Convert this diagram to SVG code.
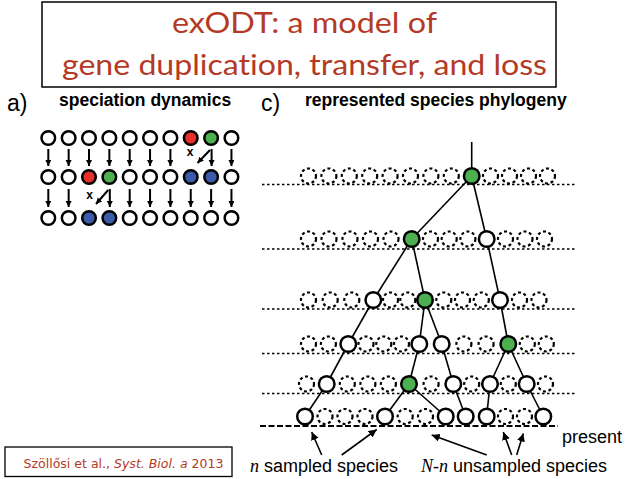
<svg xmlns="http://www.w3.org/2000/svg" width="638" height="479" viewBox="0 0 638 479">
<style>
.title{font-family:Lato,"Open Sans","Liberation Sans",sans-serif;fill:#b43a26;font-size:29px;font-variant-ligatures:none;}
.hdr{font-family:"Liberation Sans",Arial,sans-serif;font-weight:bold;font-size:17.5px;fill:#000;}
.lab{font-family:"Liberation Sans",Arial,sans-serif;font-size:23px;fill:#000;}
.txt{font-family:"Liberation Sans",Arial,sans-serif;font-size:18px;fill:#000;}
.it{font-family:"Liberation Serif","Times New Roman",serif;font-style:italic;}
.cite{font-family:"DejaVu Sans",Verdana,sans-serif;font-size:13px;fill:#b43a26;}
.xm{font-family:"Liberation Sans",Arial,sans-serif;font-weight:bold;font-size:12px;fill:#000;}
.a{stroke:#000;stroke-width:2;}
.sa{fill:#fff;stroke:#000;stroke-width:2.5;}
.n{fill:#fff;stroke:#000;stroke-width:2.5;}
.g{fill:#4caf50;}
.r{fill:#e8302a;}
.b{fill:#3a5ca8;}
.d{fill:none;stroke:#000;stroke-width:2.2;stroke-dasharray:3 2.6;}
.lvl{stroke:#000;stroke-width:1.6;stroke-dasharray:2.5 2.5;}
.e{stroke:#000;stroke-width:1.6;fill:none;}
.pa{stroke:#000;stroke-width:1.6;}
</style>
<defs>
<marker id="ah" markerUnits="userSpaceOnUse" markerWidth="7" markerHeight="7" refX="6" refY="3" orient="auto">
<path d="M0,0 L6,3 L0,6 z" fill="#000"/>
</marker>
<marker id="ah2" markerUnits="userSpaceOnUse" markerWidth="10" markerHeight="10" refX="8" refY="4" orient="auto">
<path d="M0,0 L8,4 L0,8 z" fill="#000"/>
</marker>
</defs>
<rect width="638" height="479" fill="#fff"/>

<g id="title">
<rect x="42" y="2" width="514" height="85" fill="#fff" stroke="#000" stroke-width="1.5"/>
<text class="title" x="304.5" y="33" text-anchor="middle" textLength="265" lengthAdjust="spacingAndGlyphs">exODT: a model of</text>
<text class="title" x="304.5" y="75" text-anchor="middle" textLength="485" lengthAdjust="spacingAndGlyphs">gene duplication, transfer, and loss</text>
</g>

<g id="panel-a-label">
<text class="lab" x="7" y="111">a)</text>
<text class="hdr" x="59" y="106">speciation dynamics</text>
</g>
<g id="panel-c-label">
<text class="lab" x="261" y="111">c)</text>
<text class="hdr" x="305" y="106">represented species phylogeny</text>
</g>

<!-- panel a -->
<g id="panel-a-row1">
<circle class="sa" cx="48.3" cy="138" r="6.8"/>
<circle class="sa" cx="68.65" cy="138" r="6.8"/>
<circle class="sa" cx="89" cy="138" r="6.8"/>
<circle class="sa" cx="109.35" cy="138" r="6.8"/>
<circle class="sa" cx="129.7" cy="138" r="6.8"/>
<circle class="sa" cx="150.05" cy="138" r="6.8"/>
<circle class="sa" cx="170.4" cy="138" r="6.8"/>
<circle class="sa r" cx="190.75" cy="138" r="6.8"/>
<circle class="sa g" cx="211.1" cy="138" r="6.8"/>
<circle class="sa" cx="231.45" cy="138" r="6.8"/>
</g>
<g id="panel-a-row2">
<circle class="sa" cx="48.3" cy="177" r="6.8"/>
<circle class="sa" cx="68.65" cy="177" r="6.8"/>
<circle class="sa r" cx="89" cy="177" r="6.8"/>
<circle class="sa g" cx="109.35" cy="177" r="6.8"/>
<circle class="sa" cx="129.7" cy="177" r="6.8"/>
<circle class="sa" cx="150.05" cy="177" r="6.8"/>
<circle class="sa" cx="170.4" cy="177" r="6.8"/>
<circle class="sa b" cx="190.75" cy="177" r="6.8"/>
<circle class="sa b" cx="211.1" cy="177" r="6.8"/>
<circle class="sa" cx="231.45" cy="177" r="6.8"/>
</g>
<g id="panel-a-row3">
<circle class="sa" cx="48.3" cy="218" r="6.8"/>
<circle class="sa" cx="68.65" cy="218" r="6.8"/>
<circle class="sa b" cx="89" cy="218" r="6.8"/>
<circle class="sa b" cx="109.35" cy="218" r="6.8"/>
<circle class="sa" cx="129.7" cy="218" r="6.8"/>
<circle class="sa" cx="150.05" cy="218" r="6.8"/>
<circle class="sa" cx="170.4" cy="218" r="6.8"/>
<circle class="sa" cx="190.75" cy="218" r="6.8"/>
<circle class="sa" cx="211.1" cy="218" r="6.8"/>
<circle class="sa" cx="231.45" cy="218" r="6.8"/>
</g>
<g id="panel-a-arrows" marker-end="url(#ah)">
<line class="a" x1="48.3" y1="149" x2="48.3" y2="166"/>
<line class="a" x1="68.65" y1="149" x2="68.65" y2="166"/>
<line class="a" x1="89" y1="149" x2="89" y2="166"/>
<line class="a" x1="109.35" y1="149" x2="109.35" y2="166"/>
<line class="a" x1="129.7" y1="149" x2="129.7" y2="166"/>
<line class="a" x1="150.05" y1="149" x2="150.05" y2="166"/>
<line class="a" x1="170.4" y1="149" x2="170.4" y2="166"/>
<line class="a" x1="211.6" y1="149" x2="211.6" y2="166"/>
<line class="a" x1="210" y1="150" x2="197.5" y2="163"/>
<line class="a" x1="231.45" y1="149" x2="231.45" y2="166"/>
<line class="a" x1="48.3" y1="189" x2="48.3" y2="207"/>
<line class="a" x1="68.65" y1="189" x2="68.65" y2="207"/>
<line class="a" x1="109.8" y1="189" x2="109.8" y2="207"/>
<line class="a" x1="108.2" y1="190" x2="96" y2="204"/>
<line class="a" x1="129.7" y1="189" x2="129.7" y2="207"/>
<line class="a" x1="150.05" y1="189" x2="150.05" y2="207"/>
<line class="a" x1="170.4" y1="189" x2="170.4" y2="207"/>
<line class="a" x1="190.75" y1="189" x2="190.75" y2="207"/>
<line class="a" x1="211.1" y1="189" x2="211.1" y2="207"/>
<line class="a" x1="231.45" y1="189" x2="231.45" y2="207"/>
</g>
<g id="panel-a-losses">
<text class="xm" x="190" y="156" text-anchor="middle">x</text>
<text class="xm" x="89.5" y="199" text-anchor="middle">x</text>
</g>

<!-- panel c: time levels -->
<g id="levels">
<line class="lvl" x1="262" y1="184.5" x2="576" y2="184.5"/>
<line class="lvl" x1="262" y1="249" x2="576" y2="249"/>
<line class="lvl" x1="262" y1="309" x2="576" y2="309"/>
<line class="lvl" x1="262" y1="353.5" x2="576" y2="353.5"/>
<line class="lvl" x1="262" y1="393.5" x2="576" y2="393.5"/>
<line x1="260" y1="426" x2="558" y2="426" stroke="#000" stroke-width="2.2" stroke-dasharray="6 2.5"/>
</g>

<g id="unsampled">
<g id="u-l1">
<circle class="d" cx="308.5" cy="176" r="7.5"/><circle class="d" cx="328.9" cy="176" r="7.5"/><circle class="d" cx="349.3" cy="176" r="7.5"/><circle class="d" cx="369.7" cy="176" r="7.5"/><circle class="d" cx="390.1" cy="176" r="7.5"/><circle class="d" cx="410.5" cy="176" r="7.5"/><circle class="d" cx="430.9" cy="176" r="7.5"/><circle class="d" cx="451.3" cy="176" r="7.5"/>
<circle class="d" cx="490.5" cy="176" r="7.5"/><circle class="d" cx="509.5" cy="176" r="7.5"/><circle class="d" cx="528.5" cy="176" r="7.5"/><circle class="d" cx="547.5" cy="176" r="7.5"/>
</g>
<g id="u-l2">
<circle class="d" cx="308.5" cy="239" r="7.5"/><circle class="d" cx="329" cy="239" r="7.5"/><circle class="d" cx="350" cy="239" r="7.5"/><circle class="d" cx="370.5" cy="239" r="7.5"/><circle class="d" cx="391" cy="239" r="7.5"/>
<circle class="d" cx="430.5" cy="239" r="7.5"/><circle class="d" cx="449.2" cy="239" r="7.5"/><circle class="d" cx="467.9" cy="239" r="7.5"/>
<circle class="d" cx="505.5" cy="239" r="7.5"/><circle class="d" cx="525" cy="239" r="7.5"/><circle class="d" cx="544.5" cy="239" r="7.5"/>
</g>
<g id="u-l3">
<circle class="d" cx="308.5" cy="300" r="7.5"/><circle class="d" cx="330.2" cy="300" r="7.5"/><circle class="d" cx="351.8" cy="300" r="7.5"/>
<circle class="d" cx="390.5" cy="300" r="7.5"/><circle class="d" cx="407.8" cy="300" r="7.5"/>
<circle class="d" cx="443.8" cy="300" r="7.5"/><circle class="d" cx="462.5" cy="300" r="7.5"/><circle class="d" cx="481.3" cy="300" r="7.5"/>
<circle class="d" cx="519.5" cy="300" r="7.5"/><circle class="d" cx="539" cy="300" r="7.5"/>
</g>
<g id="u-l4">
<circle class="d" cx="308.5" cy="344" r="7.5"/><circle class="d" cx="328.4" cy="344" r="7.5"/>
<circle class="d" cx="366" cy="344" r="7.5"/><circle class="d" cx="383.8" cy="344" r="7.5"/><circle class="d" cx="401.5" cy="344" r="7.5"/>
<circle class="d" cx="463.9" cy="344" r="7.5"/><circle class="d" cx="486.1" cy="344" r="7.5"/>
<circle class="d" cx="527.3" cy="344" r="7.5"/><circle class="d" cx="546.3" cy="344" r="7.5"/>
</g>
<g id="u-l5">
<circle class="d" cx="306.5" cy="384" r="7.5"/>
<circle class="d" cx="347.3" cy="384" r="7.5"/><circle class="d" cx="367.9" cy="384" r="7.5"/><circle class="d" cx="388.4" cy="384" r="7.5"/>
<circle class="d" cx="431.1" cy="384" r="7.5"/>
<circle class="d" cx="471.7" cy="384" r="7.5"/>
<circle class="d" cx="508.3" cy="384" r="7.5"/>
<circle class="d" cx="545.5" cy="384" r="7.5"/>
</g>
<g id="u-l6">
<circle class="d" cx="325" cy="416.5" r="7.5"/><circle class="d" cx="345" cy="416.5" r="7.5"/><circle class="d" cx="365" cy="416.5" r="7.5"/>
<circle class="d" cx="405.2" cy="416.5" r="7.5"/><circle class="d" cx="425.5" cy="416.5" r="7.5"/>
<circle class="d" cx="505.5" cy="416.5" r="7.5"/><circle class="d" cx="524.5" cy="416.5" r="7.5"/>
</g>
</g>

<g id="edges">
<line class="e" x1="471.7" y1="142" x2="471.7" y2="176"/>
<line class="e" x1="471.7" y1="176" x2="411.7" y2="239"/>
<line class="e" x1="471.7" y1="176" x2="486.7" y2="239"/>
<line class="e" x1="411.7" y1="239" x2="373.3" y2="300"/>
<line class="e" x1="411.7" y1="239" x2="425" y2="300"/>
<line class="e" x1="486.7" y1="239" x2="500" y2="300"/>
<line class="e" x1="373.3" y1="300" x2="348.3" y2="344"/>
<line class="e" x1="425" y1="300" x2="419.3" y2="344"/>
<line class="e" x1="425" y1="300" x2="441.7" y2="344"/>
<line class="e" x1="500" y1="300" x2="508.3" y2="344"/>
<line class="e" x1="348.3" y1="344" x2="326.7" y2="384"/>
<line class="e" x1="419.3" y1="344" x2="409" y2="384"/>
<line class="e" x1="441.7" y1="344" x2="453.3" y2="384"/>
<line class="e" x1="508.3" y1="344" x2="490" y2="384"/>
<line class="e" x1="508.3" y1="344" x2="526.7" y2="384"/>
<line class="e" x1="326.7" y1="384" x2="305" y2="416.5"/>
<line class="e" x1="409" y1="384" x2="385" y2="416.5"/>
<line class="e" x1="409" y1="384" x2="445.7" y2="416.5"/>
<line class="e" x1="453.3" y1="384" x2="465.7" y2="416.5"/>
<line class="e" x1="490" y1="384" x2="486.7" y2="416.5"/>
<line class="e" x1="526.7" y1="384" x2="543.3" y2="416.5"/>
</g>

<g id="n-root"><circle class="n g" cx="471.7" cy="176" r="7.8"/></g>
<g id="n-2a"><circle class="n g" cx="411.7" cy="239" r="7.8"/></g>
<g id="n-2b"><circle class="n" cx="486.7" cy="239" r="7.8"/></g>
<g id="n-3a"><circle class="n" cx="373.3" cy="300" r="7.8"/></g>
<g id="n-3b"><circle class="n g" cx="425" cy="300" r="7.8"/></g>
<g id="n-3c"><circle class="n" cx="500" cy="300" r="7.8"/></g>
<g id="n-4a"><circle class="n" cx="348.3" cy="344" r="7.8"/></g>
<g id="n-4b"><circle class="n" cx="419.3" cy="344" r="7.8"/></g>
<g id="n-4c"><circle class="n" cx="441.7" cy="344" r="7.8"/></g>
<g id="n-4d"><circle class="n g" cx="508.3" cy="344" r="7.8"/></g>
<g id="n-5a"><circle class="n" cx="326.7" cy="384" r="7.8"/></g>
<g id="n-5b"><circle class="n g" cx="409" cy="384" r="7.8"/></g>
<g id="n-5c"><circle class="n" cx="453.3" cy="384" r="7.8"/></g>
<g id="n-5d"><circle class="n" cx="490" cy="384" r="7.8"/></g>
<g id="n-5e"><circle class="n" cx="526.7" cy="384" r="7.8"/></g>
<g id="n-6a"><circle class="n" cx="305" cy="416.5" r="7.8"/></g>
<g id="n-6b"><circle class="n" cx="385" cy="416.5" r="7.8"/></g>
<g id="n-6c"><circle class="n" cx="445.7" cy="416.5" r="7.8"/></g>
<g id="n-6d"><circle class="n" cx="465.7" cy="416.5" r="7.8"/></g>
<g id="n-6e"><circle class="n" cx="486.7" cy="416.5" r="7.8"/></g>
<g id="n-6f"><circle class="n" cx="543.3" cy="416.5" r="7.8"/></g>

<g id="pointer-arrows" marker-end="url(#ah2)">
<line class="pa" x1="321.7" y1="455" x2="311.7" y2="432"/>
<line class="pa" x1="341.7" y1="455" x2="376.7" y2="429.5"/>
<line class="pa" x1="486.7" y1="455" x2="431.7" y2="435"/>
<line class="pa" x1="511.7" y1="455" x2="503.3" y2="432"/>
<line class="pa" x1="516.7" y1="455" x2="523.3" y2="433.5"/>
</g>

<g id="labels">
<text class="txt" x="562" y="443" font-size="17">present</text>
<text class="txt" x="250" y="472"><tspan class="it">n</tspan> sampled species</text>
<text class="txt" x="421" y="472"><tspan class="it">N-n</tspan> unsampled species</text>
</g>

<g id="citation">
<rect x="5" y="447" width="227" height="29.5" fill="#fff" stroke="#000" stroke-width="1.3"/>
<text class="cite" x="23.5" y="467.5" textLength="200" lengthAdjust="spacingAndGlyphs">Szöllősi et al., <tspan font-style="italic">Syst. Biol. a</tspan> 2013</text>
</g>
</svg>
